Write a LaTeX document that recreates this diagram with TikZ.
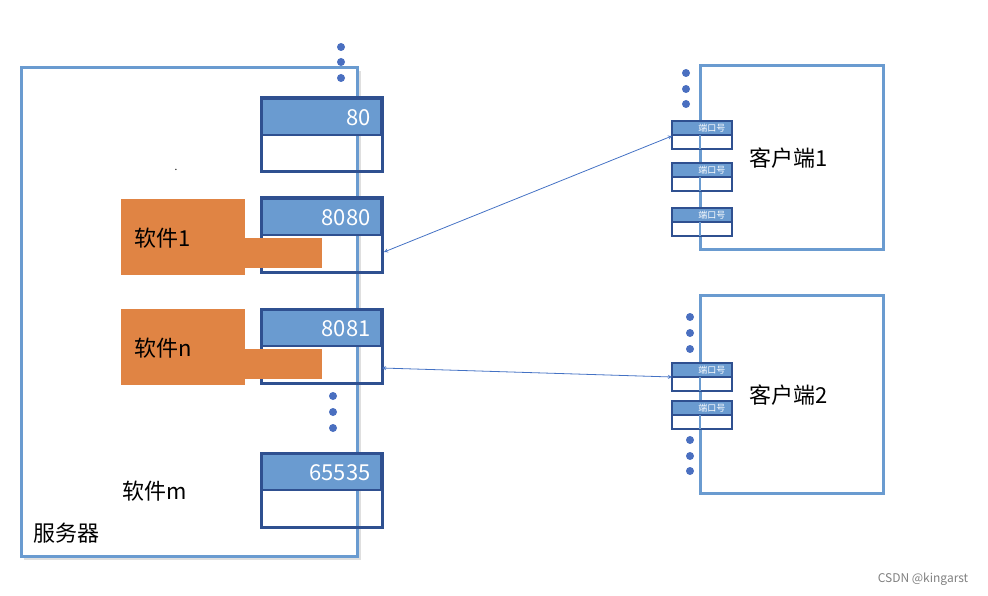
\documentclass[tikz,border=0pt]{standalone}
\usepackage{fontspec}
\setmainfont{Noto Sans CJK SC}
\begin{document}
\begin{tikzpicture}[x=1pt,y=-1pt,
  port/.style={draw=dkb,line width=3pt},
  hdr/.style={fill=hblue,draw=dkb,line width=1.2pt},
  dot/.style={circle,fill=dotc,inner sep=0pt,minimum size=8pt},
  sm/.style={draw=dkb,line width=1.3pt},
  big/.style={font=\fontsize{22}{24}\selectfont},
  arr/.style={draw=lineb,line width=0.8pt,<->,>=stealth}]
\definecolor{dkb}{HTML}{2F5090}
\definecolor{hblue}{HTML}{6A9BD0}
\definecolor{dotc}{HTML}{4A6FC0}
\definecolor{lineb}{HTML}{4472C4}
\definecolor{orng}{HTML}{E08444}
\definecolor{frame}{HTML}{6A9BD0}
\useasboundingbox (0,0) rectangle (988,596);
% server
\fill[gray!25] (24,71) rectangle (361,560);
\draw[frame,line width=3pt,fill=white] (21,68) rectangle (357,556);
\node[anchor=west,big] (srv) at (30,533) {服务器};
\node[big] (sm) at (155,491) {软件m};
\node (pt) at (176,170) {.};
% ports
\foreach \n/\y/\t in {p80/98/80,p8080/198/8080,p8081/309/8081,p65535/453/65535}{
  \draw[port] (261,\y) rectangle (382,\y+74);
  \draw[hdr] (262,\y+1) rectangle (381,\y+37);
  \node[anchor=east,text=white,big] (\n) at (374,\y+20) {\t};
}
% orange
\fill[orng] (121,199) rectangle (245,275);
\fill[orng] (245,238) rectangle (322,268);
\node[anchor=west,big] (s1) at (131,238) {软件1};
\fill[orng] (121,309) rectangle (245,385);
\fill[orng] (245,349) rectangle (322,379);
\node[anchor=west,big] (sn) at (131,348) {软件n};
% dots
\foreach \y in {47,62,78}{\node[dot] at (341,\y) {};}
\foreach \y in {396,412,428}{\node[dot] at (333,\y) {};}
\foreach \y in {73,89,104}{\node[dot] at (686,\y) {};}
\foreach \y in {317,333,349,440,456,471}{\node[dot] at (690,\y) {};}
% clients
\draw[frame,line width=3pt] (700,66) rectangle (883,250);
\draw[frame,line width=3pt] (700,295) rectangle (883,493);
\node[big] (c1) at (789,158) {客户端1};
\node[big] (c2) at (789,395) {客户端2};
\foreach \n/\y in {a/121,b/163,c/208,d/363,e/401}{
  \draw[sm,fill=white] (672,\y) rectangle (732,\y+28);
  \draw[sm,fill=hblue] (672,\y) rectangle (732,\y+14);
  \draw[frame,line width=2.5pt] (700,\y+14) -- (700,\y+28);
  \node[text=white,font=\fontsize{9}{10}\selectfont,anchor=east] (k\n) at (729,\y+7) {端口号};
}
\coordinate (a1) at (384,252);
\coordinate (a2) at (672,136);
\coordinate (b1) at (382,368);
\coordinate (b2) at (672,377);
\draw[arr] (a1) -- (a2);
\draw[arr] (b1) -- (b2);
\node[text=gray,font=\fontsize{12}{13}\selectfont] (wm) at (923,579) {CSDN @kingarst};
\end{tikzpicture}
\end{document}
